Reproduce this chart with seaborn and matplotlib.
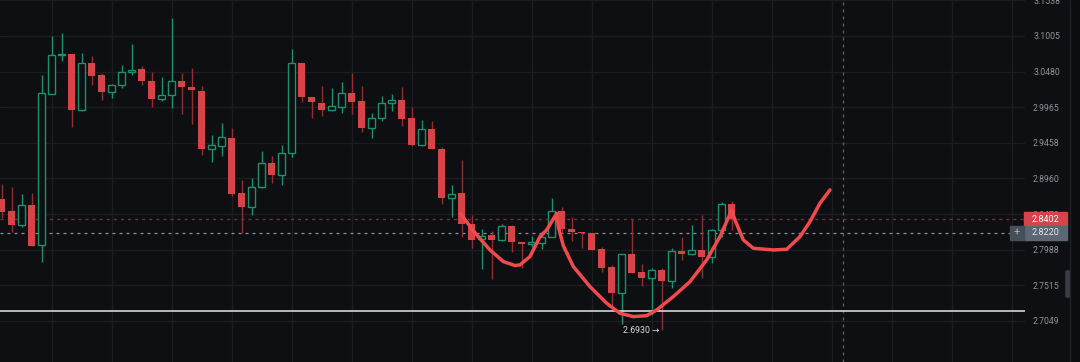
import numpy as np
import pandas as pd
import matplotlib
matplotlib.use("Agg")
import matplotlib.pyplot as plt
import seaborn as sns
from matplotlib.patches import Rectangle, FancyBboxPatch
from matplotlib.lines import Line2D
from matplotlib.ticker import FixedLocator, FixedFormatter, NullLocator

# ---------------- data ----------------
opens = [2.8673, 2.8513, 2.8318, 2.8595, 2.8048, 3.0158, 3.0720, 3.0735, 2.9922, 3.0607,
         3.0432, 3.0182, 3.0283, 3.0470, 3.0514, 3.0350, 3.0081, 3.0138, 3.0341, 3.0254,
         3.0206, 2.9377, 2.9414, 2.9533, 2.8756, 2.8573, 2.8838, 2.9172, 2.9004, 2.9321,
         3.0602, 3.0114, 3.0028, 2.9922, 2.9975, 3.0163, 3.0052, 2.9675, 2.9817, 3.0023,
         3.0076, 2.9808, 2.9424, 2.9651, 2.9372, 2.8692, 2.8756, 2.8336, 2.8129, 2.8188,
         2.8120, 2.8314, 2.8089, 2.8062, 2.8084, 2.8165, 2.8508, 2.8273, 2.8228, 2.8210,
         2.7994, 2.7755, 2.7410, 2.7927, 2.7688, 2.7617, 2.7719, 2.7578, 2.7967, 2.7927,
         2.7980, 2.7887, 2.8255, 2.8609]
highs = [2.8879, 2.8838, 2.8742, 2.8756, 3.0427, 3.1005, 3.1055, 3.0740, 3.0750, 3.0715,
         3.0466, 3.0302, 3.0573, 3.0882, 3.0563, 3.0475, 3.0403, 3.1269, 3.0466, 3.0529,
         3.0264, 2.9570, 2.9741, 2.9675, 2.8934, 2.8966, 2.9344, 2.9274, 2.9428, 3.0818,
         3.0610, 3.0114, 3.0273, 3.0240, 3.0336, 3.0456, 3.0278, 2.9889, 3.0129, 3.0158,
         3.0254, 2.9975, 2.9784, 2.9765, 2.9405, 2.8866, 2.9218, 2.8458, 2.8264, 2.8246,
         2.8336, 2.8318, 2.8092, 2.8174, 2.8210, 2.8687, 2.8563, 2.8435, 2.8232, 2.8212,
         2.8030, 2.7786, 2.7930, 2.8399, 2.7795, 2.7741, 2.7750, 2.8008, 2.8156, 2.8318,
         2.8458, 2.8273, 2.8637, 2.8646]
lows = [2.8413, 2.8224, 2.8300, 2.8035, 2.7825, 3.0150, 3.0642, 2.9689, 2.9915, 3.0292,
        3.0071, 3.0095, 3.0240, 3.0432, 3.0292, 2.9970, 3.0057, 2.9951, 2.9870, 2.9732,
        2.9293, 2.9191, 2.9270, 2.8724, 2.8210, 2.8458, 2.8830, 2.8902, 2.8870, 2.9256,
        3.0033, 2.9808, 2.9846, 2.9915, 2.9879, 2.9870, 2.9618, 2.9522, 2.9775, 2.9913,
        2.9698, 2.9420, 2.9420, 2.9372, 2.8605, 2.8435, 2.8165, 2.8008, 2.7728, 2.7599,
        2.8102, 2.7954, 2.7741, 2.8030, 2.7994, 2.8160, 2.8210, 2.8111, 2.8008, 2.7983,
        2.7697, 2.7245, 2.7010, 2.7680, 2.7511, 2.7127, 2.6930, 2.7476, 2.7853, 2.7920,
        2.7617, 2.7808, 2.8165, 2.8255]
closes = [2.8504, 2.8323, 2.8591, 2.8039, 3.0163, 3.0720, 3.0740, 2.9922, 3.0607, 3.0417,
          3.0182, 3.0283, 3.0475, 3.0509, 3.0345, 3.0081, 3.0138, 3.0341, 3.0254, 3.0211,
          2.9377, 2.9424, 2.9537, 2.8751, 2.8573, 2.8838, 2.9172, 2.9004, 2.9321, 3.0602,
          3.0105, 3.0033, 2.9922, 2.9980, 3.0163, 3.0033, 2.9675, 2.9817, 3.0028, 3.0066,
          2.9803, 2.9424, 2.9651, 2.9377, 2.8692, 2.8751, 2.8336, 2.8120, 2.8174, 2.8120,
          2.8309, 2.8089, 2.8062, 2.8093, 2.8165, 2.8508, 2.8273, 2.8224, 2.8210, 2.7985,
          2.7750, 2.7410, 2.7927, 2.7684, 2.7617, 2.7719, 2.7578, 2.7967, 2.7927, 2.7980,
          2.7887, 2.8255, 2.8609, 2.8402]

price_ticks = [3.1538, 3.1005, 3.0480, 2.9965, 2.9458, 2.8960, 2.8470, 2.7988, 2.7515, 2.7049]
last_price = 2.8402
mark_price = 2.8220
support_level = 2.7175
low_value = 2.6930
low_label = "2.6930 →"
cursor_x = 84.16

# hand-drawn pattern curve (candle index, price)
curve_x = [45.90, 47.50, 48.83, 50.16, 51.33, 51.83, 52.83, 53.83, 54.50, 55.50,
           55.66, 56.16, 57.16, 58.83, 60.50, 61.83, 63.16, 64.50, 65.50, 67.16,
           68.83, 70.50, 71.83, 73.00, 73.33, 74.16, 75.16, 77.16, 78.50, 79.83,
           80.83, 81.83, 82.33, 82.83]
curve_y = [2.8470, 2.8188, 2.7985, 2.7830, 2.7777, 2.7786, 2.7897, 2.8165, 2.8255, 2.8480,
           2.8300, 2.8042, 2.7764, 2.7498, 2.7280, 2.7149, 2.7106, 2.7118, 2.7193, 2.7367,
           2.7564, 2.7853, 2.8165, 2.8524, 2.8390, 2.8120, 2.8008, 2.7985, 2.7994, 2.8165,
           2.8367, 2.8619, 2.8711, 2.8802]

# ---------------- style ----------------
BG = "#0e0f12"
GRID = "#1b1d21"
RED = "#d8434a"
RED_WICK = "#8e2f33"
GREEN = "#1c8f6c"
TXT = "#8f9297"

sns.set_theme(style="dark", rc={"axes.facecolor": BG, "figure.facecolor": BG})
plt.rcParams["font.family"] = ["Roboto", "DejaVu Sans"]

fig = plt.figure(figsize=(10.8, 3.62), dpi=100)
fig.patch.set_facecolor(BG)
ax = fig.add_axes([0, 0, 1025 / 1080, 1])
ax.set_facecolor(BG)

df = pd.DataFrame({"o": opens, "h": highs, "l": lows, "c": closes})
df["i"] = np.arange(len(df))
up = df[df.c >= df.o]
dn = df[df.c < df.o]

# bearish candles
ax.vlines(dn.i, dn.l, dn.h, color=RED_WICK, lw=1.0, zorder=2)
ax.bar(dn.i, dn.o - dn.c, bottom=dn.c, width=0.7, color=RED, linewidth=0, zorder=3)
# bullish (hollow) candles
ax.vlines(up.i, up.c, up.h, color=GREEN, lw=1.0, zorder=2)
ax.vlines(up.i, up.l, up.o, color=GREEN, lw=1.0, zorder=2)
ax.bar(up.i, up.c - up.o, bottom=up.o, width=0.66, facecolor=BG, edgecolor=GREEN,
       linewidth=1.0, zorder=3)

# reference lines
ax.axhline(last_price, color="#7a2c30", lw=1.0, ls=(0, (2.2, 2.9)), zorder=1.5)
ax.axhline(mark_price, color="#8c9096", lw=0.9, ls=(0, (2.4, 3.2)), zorder=1.5)
ax.axhline(support_level, color="#e6e6e6", lw=1.1, zorder=4)
ax.axvline(cursor_x, color="#5f6267", lw=0.9, ls=(0, (2.4, 3.2)), zorder=1.5)

# hand-drawn curve
sns.lineplot(x=curve_x, y=curve_y, sort=False, estimator=None, ax=ax,
             color="#f04a4c", lw=2.5, zorder=6, solid_capstyle="round",
             solid_joinstyle="round")

# low label
ax.text(65.8, low_value, low_label, ha="right", va="center", fontsize=6.3,
        color="#d9d9d9", zorder=7)

# axes setup
ax.set_yscale("log")
ax.set_ylim(2.6523, 3.1544)
ax.set_xlim(-0.17, 102.33)
ax.yaxis.set_major_locator(FixedLocator(price_ticks))
ax.yaxis.set_major_formatter(FixedFormatter([f"{t:.4f}" for t in price_ticks]))
ax.yaxis.set_minor_locator(NullLocator())
ax.yaxis.tick_right()
ax.tick_params(axis="y", length=0, pad=5.8, labelsize=6.3, labelcolor=TXT)
ax.set_xticks(np.arange(5, 102, 6))
ax.tick_params(axis="x", length=0, labelbottom=False)
ax.grid(True, color=GRID, lw=1.0)
ax.set_axisbelow(True)
for s in ax.spines.values():
    s.set_visible(False)
ax.set_xlabel("")
ax.set_ylabel("")

# price boxes on the axis strip
pax = fig.add_axes([1025 / 1080, 0, 45 / 1080, 1], sharey=ax)
pax.set_xlim(0, 45)
pax.patch.set_alpha(0)
pax.axis("off")
h = np.exp(7 / 2088)
pax.add_patch(Rectangle((-1, last_price / h), 43, last_price * h - last_price / h,
                        color="#d6444b", clip_on=False, zorder=5))
pax.text(20.5, last_price, f"{last_price:.4f}", ha="center", va="center",
         fontsize=6.5, color="white", zorder=6)
pax.add_patch(Rectangle((-1, mark_price / h), 43, mark_price * h - mark_price / h,
                        color="#5c6674", clip_on=False, zorder=5))
pax.text(20.5, mark_price, f"{mark_price:.4f}", ha="center", va="center",
         fontsize=6.5, color="#e2e5ea", zorder=6)
pax.add_patch(Rectangle((-15, mark_price / h), 14, mark_price * h - mark_price / h,
                        color="#464e5a", clip_on=False, zorder=5))
pax.text(-8, mark_price, "+", ha="center", va="center", fontsize=8,
         color="#aab0b8", zorder=6, clip_on=False)

# right edge separator and scroll handle
fig.add_artist(Rectangle((1070.5 / 1080, 0), 9.5 / 1080, 1, transform=fig.transFigure,
                         color="#0b0c0e", zorder=0))
fig.add_artist(Line2D([1070 / 1080] * 2, [0, 1], transform=fig.transFigure,
                      color="#202227", lw=1))
fig.add_artist(FancyBboxPatch((1066 / 1080, 65 / 362), 4 / 1080, 26 / 362,
                              boxstyle="round,pad=0,rounding_size=0.002",
                              transform=fig.transFigure, color="#3a3d44"))

fig.savefig("out.png", dpi=100, facecolor=BG)
